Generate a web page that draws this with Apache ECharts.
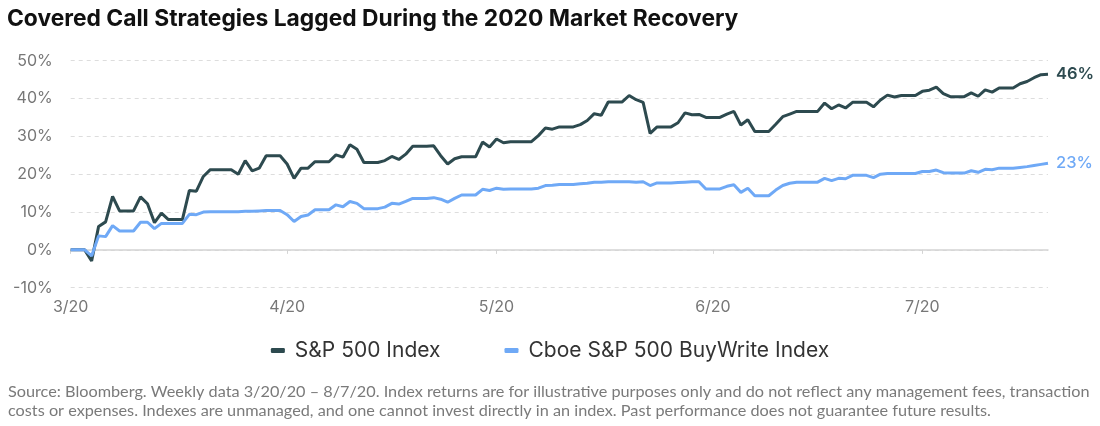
<!DOCTYPE html>
<html>
<head>
<meta charset="utf-8">
<script src="https://cdn.jsdelivr.net/npm/echarts@6/dist/echarts.min.js"></script>
<style>
html,body{margin:0;padding:0;background:#fff;}
#chart{width:1100px;height:426px;}
</style>
</head>
<body>
<div id="chart"></div>
<script>
const titleText = 'Covered Call Strategies Lagged During the 2020 Market Recovery';
const footnote = 'Source: Bloomberg. Weekly data 3/20/20 – 8/7/20. Index returns are for illustrative purposes only and do not reflect any management fees, transaction\ncosts or expenses. Indexes are unmanaged, and one cannot invest directly in an index. Past performance does not guarantee future results.';
const seriesNames = ['S&P 500 Index', 'Cboe S&P 500 BuyWrite Index'];
const tickLabels = ['3/20', '4/20', '5/20', '6/20', '7/20'];
const dates = [
'3/20','3/21','3/22','3/23','3/24','3/25','3/26','3/27','3/28','3/29','3/30','3/31',
'4/1','4/2','4/3','4/4','4/5','4/6','4/7','4/8','4/9','4/10','4/11','4/12','4/13','4/14','4/15','4/16','4/17','4/18','4/19','4/20','4/21','4/22','4/23','4/24','4/25','4/26','4/27','4/28','4/29','4/30',
'5/1','5/2','5/3','5/4','5/5','5/6','5/7','5/8','5/9','5/10','5/11','5/12','5/13','5/14','5/15','5/16','5/17','5/18','5/19','5/20','5/21','5/22','5/23','5/24','5/25','5/26','5/27','5/28','5/29','5/30','5/31',
'6/1','6/2','6/3','6/4','6/5','6/6','6/7','6/8','6/9','6/10','6/11','6/12','6/13','6/14','6/15','6/16','6/17','6/18','6/19','6/20','6/21','6/22','6/23','6/24','6/25','6/26','6/27','6/28','6/29','6/30',
'7/1','7/2','7/3','7/4','7/5','7/6','7/7','7/8','7/9','7/10','7/11','7/12','7/13','7/14','7/15','7/16','7/17','7/18','7/19','7/20','7/21','7/22','7/23','7/24','7/25','7/26','7/27','7/28','7/29','7/30','7/31',
'8/1','8/2','8/3','8/4','8/5','8/6','8/7'
];
const sp500 = [
0,0,0,-2.9,6.2,7.4,14.1,10.3,10.3,10.3,
14.0,12.2,7.2,9.7,8.0,8.0,8.0,15.7,15.5,19.4,
21.2,21.2,21.2,21.2,20.0,23.6,20.9,21.6,24.9,24.9,
24.9,22.7,18.9,21.6,21.6,23.3,23.3,23.3,25.1,24.5,
27.8,26.6,23.1,23.1,23.1,23.6,24.7,23.9,25.3,27.4,
27.4,27.4,27.5,24.9,22.7,24.1,24.6,24.6,24.6,28.5,
27.2,29.3,28.3,28.6,28.6,28.6,28.6,30.2,32.2,31.9,
32.5,32.5,32.5,33.1,34.2,36.0,35.6,39.1,39.1,39.1,
40.8,39.7,39.0,30.8,32.5,32.5,32.5,33.6,36.2,35.7,
35.8,35.0,35.0,35.0,35.9,36.6,33.0,34.4,31.3,31.3,
31.3,33.2,35.2,35.9,36.6,36.6,36.6,36.6,38.8,37.3,
38.3,37.5,39.0,39.0,39.0,37.8,39.6,40.9,40.4,40.8,
40.8,40.8,41.9,42.2,43.0,41.3,40.5,40.5,40.5,41.5,
40.6,42.3,41.7,42.8,42.8,42.8,43.9,44.5,45.5,46.3,
46.4
];
const bxm = [
0,0,0,-1.6,3.7,3.5,6.4,5.0,5.0,5.0,
7.3,7.3,5.6,7.0,7.0,7.0,7.0,9.4,9.3,10.0,
10.1,10.1,10.1,10.1,10.1,10.2,10.2,10.3,10.4,10.4,
10.4,9.3,7.5,8.8,9.2,10.6,10.6,10.6,11.9,11.4,
12.8,12.3,10.9,10.9,10.9,11.3,12.3,12.1,12.8,13.6,
13.6,13.6,13.8,13.4,12.6,13.6,14.5,14.5,14.5,16.0,
15.7,16.3,16.0,16.1,16.1,16.1,16.1,16.3,17.0,17.1,
17.3,17.3,17.3,17.5,17.6,17.9,17.9,18.0,18.0,18.0,
18.0,17.9,18.0,17.0,17.7,17.7,17.7,17.8,17.9,18.0,
18.0,16.1,16.1,16.1,16.8,17.2,15.2,16.3,14.3,14.3,
14.3,15.8,17.0,17.6,17.9,17.9,17.9,17.9,18.9,18.3,
18.9,18.8,19.7,19.7,19.7,19.1,20.0,20.2,20.2,20.2,
20.2,20.2,20.7,20.7,21.1,20.4,20.3,20.3,20.3,20.9,
20.5,21.3,21.2,21.6,21.6,21.6,21.8,22.0,22.3,22.6,
22.9
];

const darkColor = '#2d4a4f';
const blueColor = '#6fa9f6';
const showTick = (idx, val) => tickLabels.indexOf(val) >= 0;

const chart = echarts.init(document.getElementById('chart'), null, {renderer: 'canvas'});
chart.setOption({
  animation: false,
  backgroundColor: '#ffffff',
  textStyle: {fontFamily: 'Inter'},
  title: [
    {text: titleText, left: 7, top: 8, padding: 0,
     textStyle: {fontFamily: 'Inter', fontWeight: 'bold', fontSize: 22.8, color: '#111111'}},
    {text: footnote, left: 8, top: 383, padding: 0,
     textStyle: {fontFamily: 'Lato', fontWeight: 'normal', fontSize: 16.25, color: '#7a7a7a', lineHeight: 18.5}}
  ],
  legend: {
    data: seriesNames,
    top: 340,
    left: 'center',
    padding: 0,
    icon: 'roundRect',
    itemWidth: 14,
    itemHeight: 5,
    itemGap: 64,
    textStyle: {fontFamily: 'Inter', fontSize: 21, color: '#333333', padding: [0, 0, 0, 5]}
  },
  grid: {left: 70.7, right: 52, top: 60.7, bottom: 138.3, containLabel: false},
  xAxis: [
    {type: 'category', data: dates, boundaryGap: false, position: 'bottom',
     axisLine: {show: false, onZero: false}, axisTick: {show: false},
     splitLine: {show: false},
     axisLabel: {interval: showTick, margin: 11, color: '#777777', fontSize: 16, fontFamily: 'Inter'}},
    {type: 'category', data: dates, boundaryGap: false, position: 'bottom',
     axisLine: {show: true, onZero: true, lineStyle: {color: '#d4d4d4', width: 1.5}},
     axisTick: {show: true, interval: showTick, length: 4, lineStyle: {color: '#d4d4d4'}},
     axisLabel: {show: false}, splitLine: {show: false}}
  ],
  yAxis: {
    type: 'value', min: -10, max: 50, interval: 10,
    axisLine: {show: false}, axisTick: {show: false},
    axisLabel: {formatter: '{value}%', color: '#777777', fontSize: 16, margin: 18, fontFamily: 'Inter'},
    splitLine: {show: true, lineStyle: {color: '#dddddd', type: [4, 4], width: 1}}
  },
  series: [
    {name: seriesNames[0], type: 'line', data: sp500, showSymbol: false, symbol: 'none',
     lineStyle: {color: darkColor, width: 3}, itemStyle: {color: darkColor},
     endLabel: {show: true, distance: 8, formatter: p => Math.round(p.value) + '%',
       color: darkColor, fontSize: 16.5, fontWeight: 600, fontFamily: 'Inter'}},
    {name: seriesNames[1], type: 'line', data: bxm, showSymbol: false, symbol: 'none',
     lineStyle: {color: blueColor, width: 3}, itemStyle: {color: blueColor},
     endLabel: {show: true, distance: 8, formatter: p => Math.round(p.value) + '%',
       color: blueColor, fontSize: 16.5, fontWeight: 500, fontFamily: 'Inter'}}
  ]
});
</script>
</body>
</html>
